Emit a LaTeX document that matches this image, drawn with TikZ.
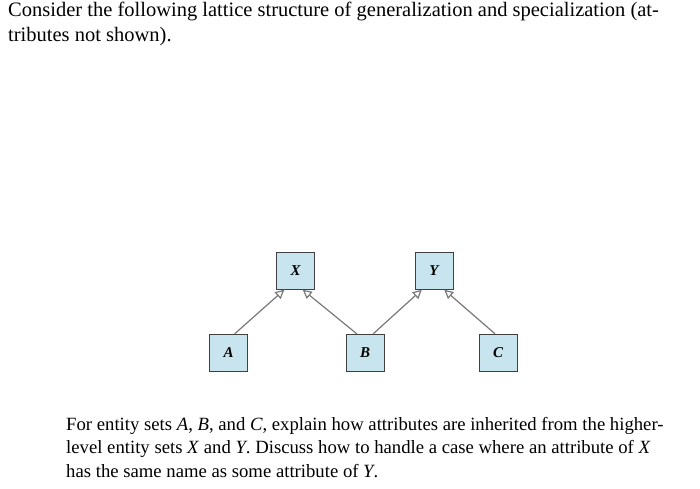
\documentclass[tikz,border=0pt]{standalone}
\usepackage{fontspec}
\setmainfont{Liberation Serif}
\usetikzlibrary{arrows.meta}
\definecolor{boxfill}{RGB}{200,228,238}
\definecolor{linegray}{RGB}{120,120,120}
\tikzset{
  ent/.style={draw=black!75, fill=boxfill, minimum width=38pt, minimum height=37pt, inner sep=0pt, font=\fontsize{15}{17}\selectfont\itshape\bfseries},
  isa/.style={draw=linegray, line width=1.2pt, -{Triangle[open, length=9pt, width=9pt, fill=white]}},
  para/.style={anchor=north west, align=left, inner sep=0pt, font=\fontsize{20.5}{25}\selectfont}
}
\begin{document}
\begin{tikzpicture}[x=1pt,y=-1pt]
\useasboundingbox (0,0) rectangle (700,488);
\node[para] (t1) at (8,2) {Consider the following lattice structure of generalization and specialization (at-\\tributes not shown).};
\node[ent] (X) at (295.5,271) {X};
\node[ent] (Y) at (434,271) {Y};
\node[ent] (A) at (228.5,352.5) {A};
\node[ent] (B) at (365,352.5) {B};
\node[ent] (C) at (498,352.5) {C};
\draw[isa] ([xshift=-13pt]A.north east) -- ([xshift=8pt]X.south west);
\draw[isa] ([xshift=11pt]B.north west) -- ([xshift=-12pt]X.south east);
\draw[isa] ([xshift=-11pt]B.north east) -- ([xshift=7pt]Y.south west);
\draw[isa] ([xshift=-3pt]C.north) -- ([xshift=-9pt]Y.south east);
\node[para, font=\fontsize{18.7}{23.5}\selectfont] (t2) at (66,417) {For entity sets \textit{A}, \textit{B}, and \textit{C}, explain how attributes are inherited from the higher-\\level entity sets \textit{X} and \textit{Y}. Discuss how to handle a case where an attribute of \textit{X}\\has the same name as some attribute of \textit{Y}.};
\end{tikzpicture}
\end{document}
